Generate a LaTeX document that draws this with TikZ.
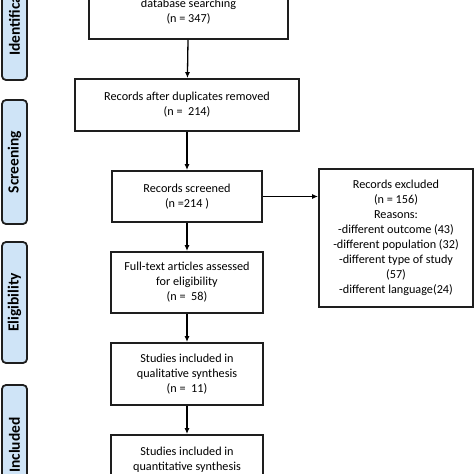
\documentclass[tikz,border=0pt]{standalone}
\usepackage{fontspec}
\setmainfont{Carlito}
\usetikzlibrary{arrows.meta,positioning,calc}
\definecolor{phaseblue}{RGB}{207,228,247}
\definecolor{boxline}{RGB}{30,30,30}

\begin{document}
\begin{tikzpicture}[x=1pt, y=-1pt, line width=1.8pt,
                box/.style={draw=boxline, fill=white, align=center, inner sep=0pt,
                    font=\fontsize{12.2}{15}\selectfont},
                phase/.style={draw=boxline, fill=phaseblue, rounded corners=4pt,
                    minimum width=25pt, inner sep=0pt},
                phaselabel/.style={rotate=90, font=\fontsize{15.5}{17}\selectfont\bfseries},
                flow/.style={-{Latex[length=6pt,width=5pt]}, line width=1.3pt}
            ]

\useasboundingbox (0,0) rectangle (474,474);

% --- phase bars on the left ---
                \node[phase, minimum height=134pt] (pid)  at (14.5,13)  {};
                \node[phase, minimum height=124pt] (pscr) at (14.5,162) {};
                \node[phase, minimum height=121pt] (pel)  at (14.5,302.5) {};
                \node[phase, minimum height=120pt] (pinc) at (14.5,445) {};

                \node[phaselabel] at (pid)  {Identification};
                \node[phaselabel] at (pscr) {Screening};
                \node[phaselabel] at (pel)  {Eligibility};
                \node[phaselabel] at (pinc) {Included};

% --- main column ---
                \node[box, minimum width=199pt, minimum height=62pt] (found) at (188.5,8)
                    {\mbox{}\\database searching\\(n = 347)};
                \node[box, minimum width=224pt, minimum height=52pt] (dedup) at (187,105)
                    {Records after duplicates removed\\(n =\ \ 214)};
                \node[box, minimum width=150pt, minimum height=51pt] (screen) at (187,196.5)
                    {Records screened\\(n =214 )};
                \node[box, minimum width=152pt, minimum height=61pt] (fulltext) at (187,282.5)
                    {Full-text articles assessed\\for eligibility\\(n =\ \ 58)};
                \node[box, minimum width=152pt, minimum height=62pt] (quali) at (187,374)
                    {Studies included in\\qualitative synthesis\\(n =\ \ 11)};
                \node[box, minimum width=152pt, minimum height=62pt] (quanti) at (187,466)
                    {Studies included in\\quantitative synthesis\\\mbox{}};

% --- excluded records ---
                \node[box, minimum width=154pt, minimum height=138pt] (excl) at (396,238)
                    {Records excluded\\(n = 156)\\Reasons:\\-different outcome (43)\\
                     -different population (32)\\-different type of study\\(57)\\
                     -different language(24)};

% --- arrows ---
                \draw[flow] (found)    -- (dedup);
                \draw[flow] (dedup)    -- (screen);
                \draw[flow] (screen)   -- (fulltext);
                \draw[flow] (fulltext) -- (quali);
                \draw[flow] (quali)    -- (quanti);
                \draw[flow] (screen.east) -- (screen.east -| excl.west);

            \end{tikzpicture}
\end{document}
